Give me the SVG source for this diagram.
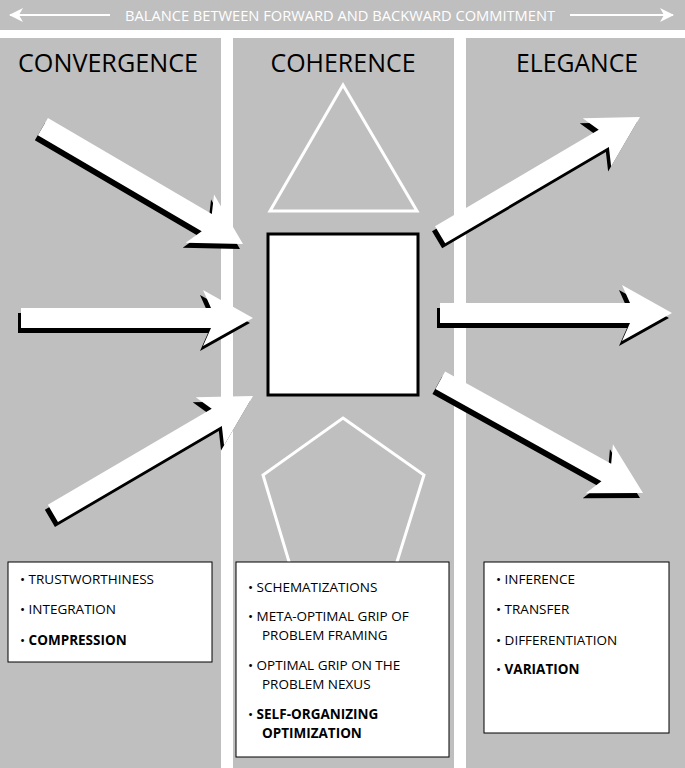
<svg xmlns="http://www.w3.org/2000/svg" width="685" height="768" viewBox="0 0 685 768">
<defs>
<path id="arr" d="M0,0 L-50,-28 L-42,-10 L-232,-10 L-232,10 L-42,10 L-50,28 Z"/>
<marker id="ah" markerWidth="14" markerHeight="14" refX="13" refY="7" orient="auto-start-reverse" markerUnits="userSpaceOnUse"><path d="M0,0 L14,7 L0,14 L4,7 Z" fill="#fff"/></marker>
</defs>
<style>
.t{font-family:"Open Sans","Liberation Sans",sans-serif;fill:#000}
.h{font-size:26px;text-anchor:middle}
.i{font-size:13.5px}
.b{font-weight:bold}
.box{fill:#fff;stroke:#000;stroke-width:1}
.sh{fill:#000}
.aw{fill:#fff}
</style>
<rect width="685" height="768" fill="#fff"/>
<rect x="0" y="0" width="685" height="30" fill="#bfbfbf"/>
<rect x="0" y="38" width="221" height="730" fill="#bfbfbf"/>
<rect x="233" y="38" width="221" height="730" fill="#bfbfbf"/>
<rect x="466" y="38" width="219" height="730" fill="#bfbfbf"/>
<g id="topbar">
<line x1="10" y1="15" x2="110" y2="15" stroke="#fff" stroke-width="2" marker-start="url(#ah)"/>
<line x1="570" y1="15" x2="673" y2="15" stroke="#fff" stroke-width="2" marker-end="url(#ah)"/>
<text x="340" y="21" text-anchor="middle" font-family="Open Sans,Liberation Sans,sans-serif" font-size="14" fill="#fff" textLength="430" lengthAdjust="spacingAndGlyphs">BALANCE BETWEEN FORWARD AND BACKWARD COMMITMENT</text>
</g>
<text class="t h" x="108" y="72" textLength="180" lengthAdjust="spacingAndGlyphs">CONVERGENCE</text>
<text class="t h" x="343" y="72" textLength="145" lengthAdjust="spacingAndGlyphs">COHERENCE</text>
<text class="t h" x="577" y="72" textLength="122" lengthAdjust="spacingAndGlyphs">ELEGANCE</text>
<g id="shapes">
<polygon points="343,85 270,211 417,211" fill="none" stroke="#fff" stroke-width="3"/>
<polygon points="343,418 424,475 396,565 290,565 263,475" fill="none" stroke="#fff" stroke-width="3"/>
<rect id="square" x="268" y="234" width="150" height="161" fill="#fff" stroke="#000" stroke-width="3"/>
</g>
<g id="connectors">
<g transform="translate(-3,5)" class="sh">
<use href="#arr" transform="translate(243,244) rotate(30.4)"/>
<use href="#arr" transform="translate(253,318)"/>
<use href="#arr" transform="translate(253,396) rotate(-30.4)"/>
<use href="#arr" transform="translate(640,117) rotate(-30.5)"/>
<use href="#arr" transform="translate(672,313)"/>
<use href="#arr" transform="translate(643,493) rotate(29.1)"/>
</g>
<g class="aw">
<use href="#arr" transform="translate(243,244) rotate(30.4)"/>
<use href="#arr" transform="translate(253,318)"/>
<use href="#arr" transform="translate(253,396) rotate(-30.4)"/>
<use href="#arr" transform="translate(640,117) rotate(-30.5)"/>
<use href="#arr" transform="translate(672,313)"/>
<use href="#arr" transform="translate(643,493) rotate(29.1)"/>
</g>
</g>
<g id="box-convergence">
<rect class="box" x="8" y="562" width="204" height="100"/>
<text class="t i" x="20" y="584">•  TRUSTWORTHINESS</text>
<text class="t i" x="20" y="614">•  INTEGRATION</text>
<text class="t i" x="20" y="645">•  <tspan class="b">COMPRESSION</tspan></text>
</g>
<g id="box-coherence">
<rect class="box" x="236" y="562" width="213" height="195"/>
<text class="t i" x="248" y="592">•  SCHEMATIZATIONS</text>
<text class="t i" x="248" y="621">•  META-OPTIMAL GRIP OF</text>
<text class="t i" x="262" y="640">PROBLEM FRAMING</text>
<text class="t i" x="248" y="670">•  OPTIMAL GRIP ON THE</text>
<text class="t i" x="262" y="689">PROBLEM NEXUS</text>
<text class="t i" x="248" y="719">•  <tspan class="b">SELF-ORGANIZING</tspan></text>
<text class="t i b" x="262" y="738">OPTIMIZATION</text>
</g>
<g id="box-elegance">
<rect class="box" x="484" y="562" width="185" height="171"/>
<text class="t i" x="496" y="584">•  INFERENCE</text>
<text class="t i" x="496" y="614">•  TRANSFER</text>
<text class="t i" x="496" y="645">•  DIFFERENTIATION</text>
<text class="t i" x="496" y="674">•  <tspan class="b">VARIATION</tspan></text>
</g>
</svg>
